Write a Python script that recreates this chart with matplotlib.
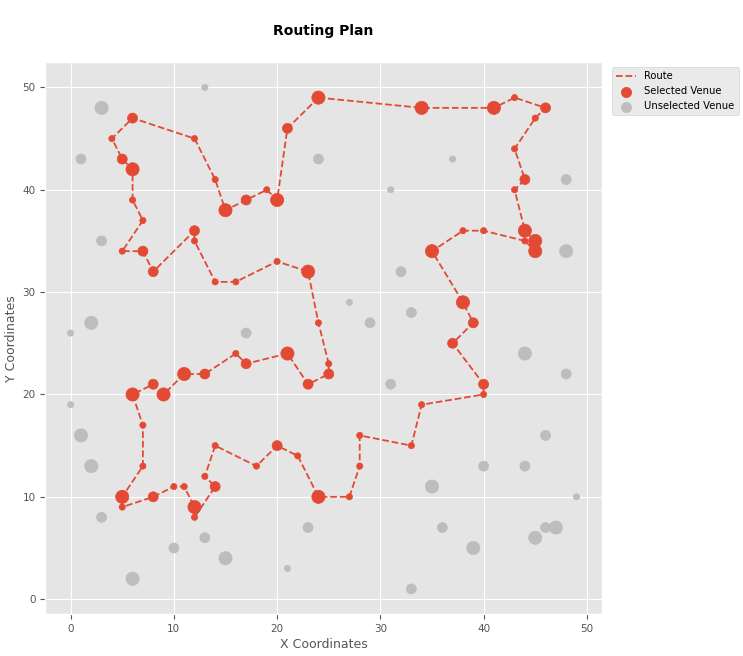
import matplotlib
matplotlib.use("Agg")
import matplotlib.pyplot as plt

plt.style.use("ggplot")

route_x = [24,34,41,43,46,45,43,44,43,44,45,45,44,40,38,35,38,39,37,40,40,34,33,28,28,27,24,22,20,18,14,13,14,12,12,11,10,8,5,5,7,7,6,8,9,11,13,16,17,21,23,25,25,24,23,20,16,14,12,12,8,7,5,7,6,6,5,4,6,12,14,15,17,19,20,21,24]
route_y = [49,48,48,49,48,47,44,41,40,36,35,34,35,36,36,34,29,27,25,21,20,19,15,16,13,10,10,14,15,13,15,12,11,8,9,11,11,10,9,10,13,17,20,21,20,22,22,24,23,24,21,22,23,27,32,33,31,31,35,36,32,34,34,37,39,42,43,45,47,45,41,38,39,40,39,46,49]
route_s = ["L","L","L","S","M","S","S","M","S","L","L","L","S","S","S","L","L","M","M","M","S","S","S","S","S","S","L","S","M","S","S","S","M","S","L","S","S","M","S","L","S","S","L","M","L","L","M","S","M","L","M","M","S","S","L","S","S","S","S","M","M","M","S","S","S","L","M","S","M","S","S","L","M","S","L","M","L"]

unsel_x = [3,13,1,24,3,2,0,17,27,29,32,33,31,37,48,48,44,48,31,0,1,2,3,6,10,13,15,21,23,35,36,39,40,44,46,45,46,47,49,33]
unsel_y = [48,50,43,43,35,27,26,26,29,27,32,28,40,43,41,34,24,22,21,19,16,13,8,2,5,6,4,3,7,11,7,5,13,13,16,6,7,7,10,1]
unsel_s = ["L","S","M","M","M","L","S","M","S","M","M","M","S","S","M","L","L","M","M","S","L","L","M","L","M","M","L","S","M","L","M","L","M","M","M","L","M","L","S","M"]

size_map = {"S": 20, "M": 52, "L": 90}

fig, ax = plt.subplots(figsize=(7.43, 6.56), dpi=100)
fig.subplots_adjust(left=0.061, right=0.81, top=0.905, bottom=0.064)

ax.plot(route_x, route_y, linestyle="--", color="#E24A33", linewidth=1.3, label="Route", zorder=2)
ax.scatter(route_x[:-1], route_y[:-1], s=[size_map[k] for k in route_s[:-1]], color="#E24A33", label="Selected Venue", zorder=3)
ax.scatter(unsel_x, unsel_y, s=[size_map[k] for k in unsel_s], color="#BDBDBD", label="Unselected Venue", zorder=3)

ax.tick_params(labelsize=7.5)
ax.set_xlabel("X Coordinates", fontsize=9, labelpad=3)
ax.set_ylabel("Y Coordinates", fontsize=9, labelpad=3)
ax.set_title("Routing Plan", fontweight="bold", pad=20, fontsize=10)
ax.legend(loc="upper left", bbox_to_anchor=(1.01, 1.0), fontsize=7.2)

fig.savefig("out.png", dpi=100)
